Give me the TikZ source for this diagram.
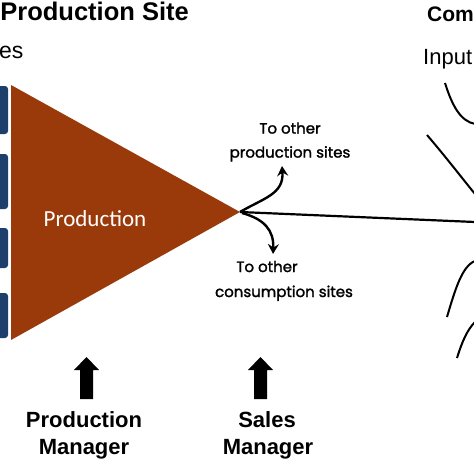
\documentclass[tikz,border=0pt]{standalone}
\usepackage{fontspec}
\setmainfont{Liberation Sans}
\newfontfamily\calib{Carlito}
\newfontfamily\geo[FakeBold=1.6]{Poppins}
\usetikzlibrary{arrows.meta}
\definecolor{prodbrown}{HTML}{9A3A0B}
\definecolor{inblue}{HTML}{1E3F6C}
\begin{document}
\begin{tikzpicture}[x=1pt,y=-1pt,
  title/.style={font=\fontsize{25.5}{30}\selectfont\bfseries, inner sep=0pt},
  plain/.style={font=\fontsize{23}{28}\selectfont, inner sep=0pt},
  mgr/.style={font=\fontsize{22}{27}\selectfont\bfseries, align=center, inner sep=0pt},
  small/.style={font=\geo\fontsize{15}{24}\selectfont, align=center, inner sep=0pt},
  flow/.style={line width=2.2pt, black},
  branch/.style={line width=2.4pt, black, -{Stealth[length=10pt,width=11pt,inset=3.5pt]}},
  fish/.style={line width=2pt, black},
  inrect/.style={fill=inblue, rounded corners=3pt},
  block/.style={fill=black}]
\useasboundingbox (0,0) rectangle (474,474);
% titles
\node[title, anchor=base east] (ptitle) at (189,20) {Production Site};
\node[plain, anchor=base west] (es) at (-1,58) {es};
\node[title, anchor=base west, font=\fontsize{21}{26}\selectfont\bfseries] (ctitle) at (427,21) {Com};
\node[plain, anchor=base west, font=\fontsize{22}{26}\selectfont] (input) at (423,64) {Input};
% input rectangles
\fill[inrect] (-6,86) rectangle (8,134);
\fill[inrect] (-6,154) rectangle (8,209);
\fill[inrect] (-6,228) rectangle (8,268);
\fill[inrect] (-6,293) rectangle (8,338);
% production triangle
\fill[prodbrown] (11,85) -- (240,212) -- (11,340) -- cycle;
\coordinate (apex) at (240,212);
\node[font=\calib\fontsize{23}{28}\selectfont, text=white, inner sep=0pt] (prod) at (95,219) {Production};
% main flow line
\coordinate (rightend) at (475,222);
\draw[flow] (apex) -- (rightend);
% branches
\coordinate (uptip) at (282,166);
\coordinate (downtip) at (273,254);
\draw[branch] (apex) .. controls (264,198) and (284,194) .. (uptip);
\draw[branch] (242,213) .. controls (264,219) and (274,230) .. (downtip);
\node[small] (toprod) at (290,142) {To other\\production sites};
\node[small, anchor=base] (tocons1) at (267,272) {To other};
\node[small, anchor=base] (tocons2) at (284,297) {consumption sites};
% fishbone inputs
\draw[fish] (445,83) .. controls (452,105) and (460,121) .. (475,124);
\draw[fish] (427,135) .. controls (445,156) and (462,178) .. (475,194);
\draw[fish] (447,317) .. controls (455,290) and (462,266) .. (475,261);
\draw[fish] (457,358) .. controls (462,342) and (467,330) .. (475,322);
% manager arrows
\fill[block] (80,399) -- (80,370) -- (74,370) -- (86.5,357) -- (99,370) -- (93,370) -- (93,399) -- cycle;
\fill[block] (254,399) -- (254,370) -- (248,370) -- (260.5,357) -- (273,370) -- (267,370) -- (267,399) -- cycle;
\node[mgr, anchor=base] (pm1) at (84,427) {Production};
\node[mgr, anchor=base] (pm2) at (84,454) {Manager};
\node[mgr, anchor=base] (sm1) at (267,427) {Sales};
\node[mgr, anchor=base] (sm2) at (268,454) {Manager};
\end{tikzpicture}
\end{document}
